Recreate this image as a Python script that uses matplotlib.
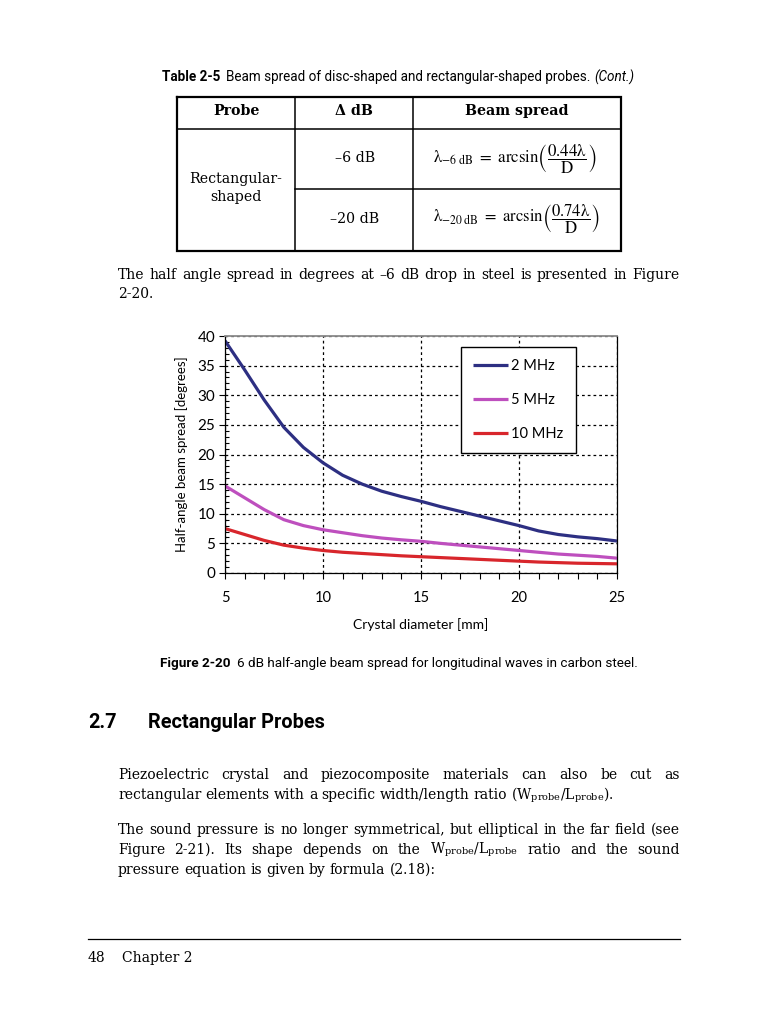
import matplotlib
matplotlib.use('Agg')
import matplotlib.pyplot as plt

plt.rcParams['mathtext.fontset'] = 'stix'

# chart data
diameter_mm = [5, 6, 7, 8, 9, 10, 11, 12, 13, 14, 15, 16, 17, 18, 19, 20, 21, 22, 23, 24, 25]
spread_2mhz = [39.2, 34.3, 29.2, 24.6, 21.2, 18.6, 16.5, 15.0, 13.8, 12.9, 12.1, 11.2, 10.4,
               9.6, 8.8, 8.0, 7.1, 6.5, 6.1, 5.8, 5.4]
spread_5mhz = [14.7, 12.7, 10.7, 9.0, 8.0, 7.3, 6.8, 6.3, 5.9, 5.6, 5.35, 5.0, 4.7,
               4.4, 4.1, 3.8, 3.5, 3.2, 3.0, 2.8, 2.5]
spread_10mhz = [7.5, 6.5, 5.5, 4.7, 4.2, 3.8, 3.5, 3.3, 3.1, 2.9, 2.75, 2.6, 2.45,
                2.3, 2.15, 2.0, 1.85, 1.75, 1.65, 1.6, 1.55]
series_labels = ['2 MHz', '5 MHz', '10 MHz']
series_colors = ['#2D2F82', '#BE4FBE', '#D8262C']

x_ticks = [5, 10, 15, 20, 25]
y_ticks = [0, 5, 10, 15, 20, 25, 30, 35, 40]

# table text
table_header = ['Probe', '\u0394 dB', 'Beam spread']
table_probe = ['Rectangular-', 'shaped']
table_db = ['\u20136 dB', '\u201320 dB']
table_formula = ['$\\mathrm{\u03bb}_{-6\\ \\mathrm{dB}}\\ =\\ \\mathrm{arcsin}'
                 '\\left(\\dfrac{0.44\\mathrm{\u03bb}}{\\mathrm{D}}\\right)$',
                 '$\\mathrm{\u03bb}_{-20\\ \\mathrm{dB}}\\ =\\ \\mathrm{arcsin}'
                 '\\left(\\dfrac{0.74\\mathrm{\u03bb}}{\\mathrm{D}}\\right)$']

W, H = 768, 1024
SERIF = 'DejaVu Serif'
NARROW = ['Liberation Sans Narrow', 'Roboto', 'DejaVu Sans']
CHART = ['Lato', 'DejaVu Sans']

fig = plt.figure(figsize=(W / 100, H / 100), dpi=100)
renderer = fig.canvas.get_renderer()

page = fig.add_axes([0, 0, 1, 1])
page.set_xlim(0, W)
page.set_ylim(H, 0)
page.axis('off')


def put(x, y, s, **kw):
    kw.setdefault('va', 'center')
    kw.setdefault('ha', 'left')
    return page.text(x, y, s, **kw)


def width(t):
    return t.get_window_extent(renderer).width


def fit_size(s, target, family, base=10, **kw):
    t = put(0, 0, s, family=family, fontsize=base, **kw)
    w = width(t)
    t.remove()
    return base * target / w


def run(x, y, parts, target=None):
    # consecutive text pieces with different styles, optionally fit to a width
    ts = []
    pos = x
    for s, gap, kw in parts:
        pos += gap
        t = put(pos, y, s, **kw)
        pos += width(t)
        ts.append((t, gap))
    if target:
        k = target / (pos - x)
        pos = x
        for t, gap in ts:
            t.set_fontsize(t.get_fontsize() * k)
            pos += gap * k
            t.set_x(pos)
            pos += width(t)
    return ts


def justify(x0, x1, y, line, last=False, **kw):
    words = line.split()
    ts = [put(x0, y, w, **kw) for w in words]
    ws = [width(t) for t in ts]
    gap = (x1 - x0 - sum(ws)) / (len(ws) - 1)
    if last:
        gap = min(gap, 0.3 * kw['fontsize'] * 100 / 72)
    pos = x0
    for t, w in zip(ts, ws):
        t.set_x(pos)
        pos += w + gap


body_size = fit_size('The half angle spread in degrees at \u20136 dB drop in steel is presented in Figure',
                     548, SERIF)
body = dict(family=SERIF, fontsize=body_size)

# table caption
run(162, 77, [('Table 2-5', 0, dict(family=NARROW, fontweight='bold', fontsize=10)),
              ('Beam spread of disc-shaped and rectangular-shaped probes.', 6,
               dict(family=NARROW, fontsize=10)),
              ('(Cont.)', 4, dict(family=NARROW, fontsize=10, style='italic'))], target=474)

# table grid
L, R, T, B = 177, 621, 96.5, 250.5
c1, c2, hrow, mrow = 295, 413, 128.5, 189
page.plot([L, R, R, L, L], [T, T, B, B, T], color='black', lw=1.6, solid_joinstyle='miter')
page.plot([c1, c1], [T, B], color='black', lw=1.1)
page.plot([c2, c2], [T, B], color='black', lw=1.1)
page.plot([L, R], [hrow, hrow], color='black', lw=1.1)
page.plot([c1, R], [mrow, mrow], color='black', lw=1.1)

cell = dict(family=SERIF, fontsize=body_size * 1.02)
for cx, s in zip([236, 354, 517], table_header):
    put(cx, 111, s, ha='center', fontweight='bold', **cell)
put(236, 179, table_probe[0], ha='center', **cell)
put(236, 197, table_probe[1], ha='center', **cell)
put(355, 158, table_db[0], ha='center', **cell)
put(355, 219, table_db[1], ha='center', **cell)
run(433, 159, [(table_formula[0], 0, dict(fontsize=11))], target=162)
run(433, 219, [(table_formula[1], 0, dict(fontsize=11))], target=166)

# paragraph before the chart
justify(118, 679, 275, 'The half angle spread in degrees at \u20136 dB drop in steel is presented in Figure',
        **body)
put(118, 294, '2-20.', **body)

# chart
ax = fig.add_axes([225 / W, 1 - 573 / H, 392 / W, 237 / H])
for ys, lab, col in zip([spread_2mhz, spread_5mhz, spread_10mhz], series_labels, series_colors):
    ax.plot(diameter_mm, ys, color=col, lw=2.3, label=lab, solid_capstyle='butt')
ax.set_xlim(5, 25)
ax.set_ylim(0, 40)
ax.set_xticks(x_ticks)
ax.set_xticks(range(5, 26), minor=True)
ax.set_yticks(y_ticks)
ax.set_yticks(range(0, 41), minor=True)
ax.grid(which='major', color='black', ls=(0, (2.2, 2.4)), lw=0.9)
ax.tick_params(axis='x', which='both', direction='out', length=4, width=0.8, pad=9,
               labelsize=10.5, labelfontfamily=CHART)
ax.tick_params(axis='y', which='major', direction='out', length=4, width=0.8, pad=3,
               labelsize=11, labelfontfamily=CHART)
ax.tick_params(axis='y', which='minor', direction='in', length=3, width=0.8)
ax.spines['top'].set_color('#8a8a8a')
ax.spines['top'].set_linewidth(1.3)
for side in ['left', 'bottom', 'right']:
    ax.spines[side].set_linewidth(0.9)
ax.set_xlabel('Crystal diameter [mm]', family=CHART, fontsize=10, labelpad=9)
ax.set_ylabel('Half-angle beam spread [degrees]', family=CHART, fontsize=9.5, labelpad=7)

leg = ax.legend(loc='upper left', bbox_to_anchor=((461 - 225) / 392, (573 - 347) / 237),
                borderaxespad=0, frameon=True, fancybox=False, framealpha=1, edgecolor='black',
                prop={'family': CHART, 'size': 10.5}, handlelength=2.4, handletextpad=0.2,
                labelspacing=1.35, borderpad=0.85)
leg.get_frame().set_linewidth(1.0)

# figure caption
run(160, 664, [('Figure 2-20', 0, dict(family=NARROW, fontweight='bold', fontsize=10)),
               ('6 dB half-angle beam spread for longitudinal waves in carbon steel.', 7,
                dict(family=NARROW, fontsize=10))], target=479)

# section heading
head_size = fit_size('Rectangular Probes', 176, NARROW, fontweight='bold')
put(88, 723, '2.7', family=NARROW, fontweight='bold', fontsize=head_size)
put(148, 723, 'Rectangular Probes', family=NARROW, fontweight='bold', fontsize=head_size)

# body text
justify(118, 680, 775, 'Piezoelectric crystal and piezocomposite materials can also be cut as', **body)
justify(118, 680, 795, r'rectangular elements with a specific width/length ratio '
        r'(W$_{\mathregular{probe}}$/L$_{\mathregular{probe}}$).', last=True, **body)
justify(118, 680, 830, 'The sound pressure is no longer symmetrical, but elliptical in the far field (see',
        **body)
justify(118, 680, 850, r'Figure 2-21). Its shape depends on the '
        r'W$_{\mathregular{probe}}$/L$_{\mathregular{probe}}$ ratio and the sound', **body)
justify(118, 680, 870, 'pressure equation is given by formula (2.18):', last=True, **body)

# footer
page.plot([88, 680], [939, 939], color='black', lw=0.9)
put(88, 958, '48', **body)
put(122, 958, 'Chapter 2', **body)

fig.savefig('out.png', dpi=100)
